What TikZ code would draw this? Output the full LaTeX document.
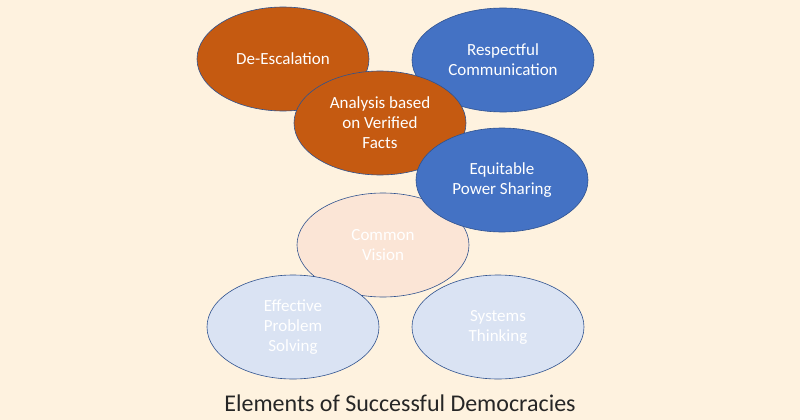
\documentclass[tikz,border=0pt]{standalone}
\usepackage{fontspec}
\setmainfont{Carlito}
\usetikzlibrary{shapes.geometric}
\definecolor{bg}{HTML}{FEF2DF}
\definecolor{orng}{HTML}{C55A11}
\definecolor{blu}{HTML}{4472C4}
\definecolor{peach}{HTML}{FBE5D6}
\definecolor{lblu}{HTML}{DAE3F3}
\definecolor{edge}{HTML}{2F528F}
\tikzset{
 el/.style={ellipse, draw=edge, line width=0.6pt, minimum width=172pt, minimum height=104pt, text=white, align=center, font=\fontsize{17}{20}\selectfont, inner sep=0pt},
}
\begin{document}
\begin{tikzpicture}[x=1pt,y=-1pt]
\fill[bg] (0,0) rectangle (800,420);
\useasboundingbox (0,0) rectangle (800,420);
\node[el, fill=orng] (de) at (283,59) {De-Escalation};
\node[el, fill=blu, minimum width=182pt] (rc) at (503,60) {Respectful\\Communication};
\node[el, fill=orng] (an) at (380,123) {Analysis based\\on Verified\\Facts};
\node[el, fill=peach] (cv) at (383,245) {Common\\Vision};
\node[el, fill=blu] (ep) at (502,180) {Equitable\\Power Sharing};
\node[el, fill=lblu] (ps) at (293,327) {Effective\\Problem\\Solving};
\node[el, fill=lblu] (st) at (498,327) {Systems\\Thinking};
\node[font=\fontsize{24}{28}\selectfont, text=black!85] (title) at (400,403) {Elements of Successful Democracies};
\end{tikzpicture}
\end{document}
